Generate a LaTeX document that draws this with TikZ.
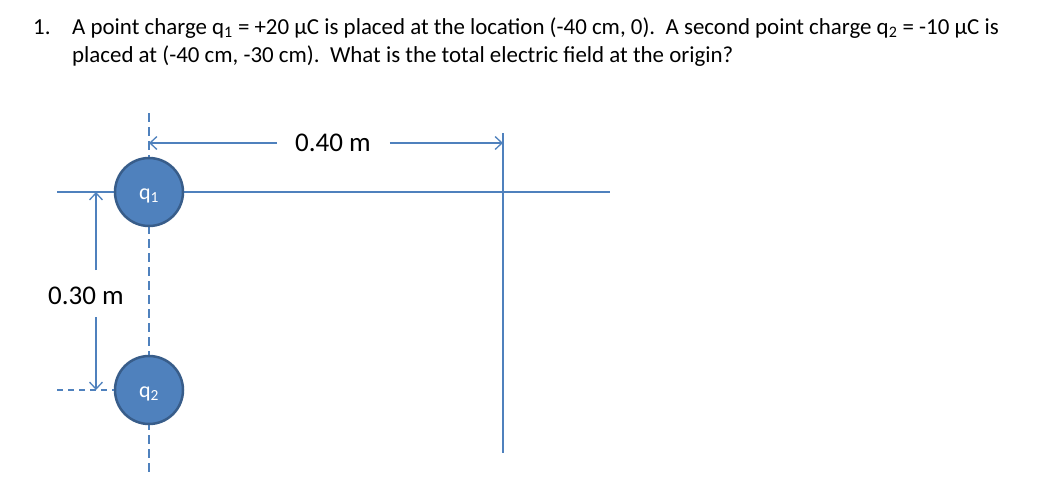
\documentclass[tikz,border=0pt]{standalone}
\usepackage{fontspec}
\setmainfont{Carlito}
\usetikzlibrary{arrows.meta}
\definecolor{lineblue}{HTML}{4F81BD}
\definecolor{edgeblue}{HTML}{385D8A}
\tikzset{
  axisline/.style={draw=lineblue, line width=1.4pt},
  dimline/.style={draw=lineblue, line width=1.4pt},
  dimtip/.style={-{Straight Barb[length=7pt,width=13pt,line width=1.3pt]}},
  dashv/.style={draw=lineblue, line width=1.3pt, dash pattern=on 9pt off 5pt},
  dashh/.style={draw=lineblue, line width=1.3pt, dash pattern=on 6pt off 5pt},
  charge/.style={circle, fill=lineblue, draw=edgeblue, line width=2.5pt, minimum size=68pt, inner sep=0pt},
  chargelabel/.style={text=white, font=\fontsize{22}{26}\selectfont, inner sep=0pt},
  dimlabel/.style={font=\fontsize{27}{32}\selectfont, inner sep=0pt},
  question/.style={font=\fontsize{22.9}{28}\selectfont, inner sep=0pt, anchor=base west, align=left}
}
\begin{document}
\begin{tikzpicture}[x=1pt,y=-1pt]
\useasboundingbox (0,0) rectangle (1060,491);
% question text
\node[question] (num) at (33,34) {1.};
\node[question] (line1) at (72,34) {A point charge q\textsubscript{1} = +20 µC is placed at the location (-40 cm, 0).\ \ A second point charge q\textsubscript{2} = -10 µC is};
\node[question] (line2) at (72,62) {placed at (-40 cm, -30 cm).\ \ What is the total electric field at the origin?};
% coordinates
\coordinate (vtop) at (149,113);
\coordinate (vbot) at (149,472);
\coordinate (hl) at (57,192);
\coordinate (hr) at (610,192);
\coordinate (yt) at (503,133);
\coordinate (yb) at (503,453);
\coordinate (dl) at (57,390);
% dashed vertical through charges
\draw[dashv] (vtop) -- (vbot);
% axes
\draw[axisline] (hl) -- (hr);
\draw[axisline] (yt) -- (yb);
% charges
\node[charge] (q1) at (149,192) {};
\node[charge] (q2) at (149,390) {};
\node[chargelabel] (q1l) at ([yshift=-4pt]q1.center) {q\textsubscript{1}};
\node[chargelabel] (q2l) at ([yshift=-4pt]q2.center) {q\textsubscript{2}};
% dashed horizontal to q2
\draw[dashh] (dl) -- (q2.west);
% top dimension
\node[dimlabel] (d40) at (333,143) {0.40 m};
\coordinate (tl) at (149,143);
\coordinate (tr) at (503,143);
\draw[dimline, dimtip] (d40.west) ++(-18,0) -- (tl);
\draw[dimline, dimtip] (d40.east) ++(19,0) -- (tr);
% left dimension
\node[dimlabel] (d30) at (86,296) {0.30 m};
\coordinate (lt) at (96,192);
\coordinate (lb) at (96,390);
\draw[dimline, dimtip] (96,270) -- (lt);
\draw[dimline, dimtip] (96,317) -- (lb);
\end{tikzpicture}
\end{document}
